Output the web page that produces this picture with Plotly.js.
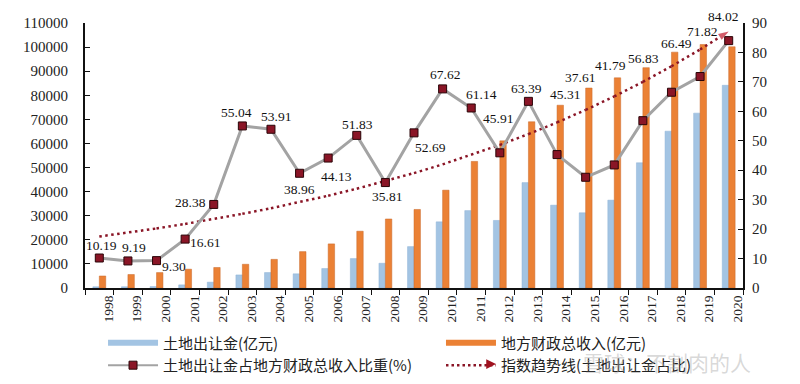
<!DOCTYPE html>
<html>
<head>
<meta charset="utf-8">
<script src="https://cdn.plot.ly/plotly-3.0.1.min.js"></script>
<style>html,body{margin:0;padding:0;background:#fff;}#chart{width:800px;height:384px;}</style>
</head>
<body>
<div id="chart"></div>
<script>
const years = ['1998','1999','2000','2001','2002','2003','2004','2005','2006','2007','2008','2009','2010','2011','2012','2013','2014','2015','2016','2017','2018','2019','2020'];
// 土地出让金(亿元)
const landRevenue = [508, 514, 596, 1296, 2417, 5421, 6412, 5884, 8078, 12217, 10260, 17180, 27465, 32126, 28042, 43745, 34377, 31221, 36462, 51984, 65096, 72584, 84142];
// 地方财政总收入(亿元)
const localRevenue = [4984, 5595, 6406, 7803, 8515, 9850, 11893, 15101, 18304, 23573, 28650, 32603, 40613, 52547, 61078, 69011, 75877, 83002, 87239, 91469, 97903, 101081, 100143];
// 土地出让金占地方财政总收入比重(%)
const landShare = [10.19, 9.19, 9.30, 16.61, 28.38, 55.04, 53.91, 38.96, 44.13, 51.83, 35.81, 52.69, 67.62, 61.14, 45.91, 63.39, 45.31, 37.61, 41.79, 56.83, 66.49, 71.82, 84.02];

const seriesNames = ['土地出让金(亿元)', '地方财政总收入(亿元)', '土地出让金占地方财政总收入比重(%)', '指数趋势线(土地出让金占比)'];

// label pixel offsets (layout only)
const labelDx = [2, 6, 17, 20, -23, -6, 5, 0, 8, 1, 1.5, 16, 2.5, 10, -2, -2, 8, -6, -4, 1, 5, 2, -6];
const labelDy = [13, 13, -6, -3, 2, 13, 12.5, -16, -18, 10.5, -14, -14.5, 14, 13.5, 34, 12.5, 60, 100, 99, 62, 49, 45.5, 24];

// exponential trend (least squares on ln values, as spreadsheet trendline)
const n = landShare.length;
const tIdx = landShare.map((_, i) => i);
const lnV = landShare.map(v => Math.log(v));
const mt = tIdx.reduce((a, b) => a + b, 0) / n;
const ml = lnV.reduce((a, b) => a + b, 0) / n;
let sxy = 0, sxx = 0;
for (let i = 0; i < n; i++) { sxy += (tIdx[i] - mt) * (lnV[i] - ml); sxx += (tIdx[i] - mt) ** 2; }
const bCoef = sxy / sxx;
const aCoef = Math.exp(ml - bCoef * mt);
const trend = tIdx.map(t => aCoef * Math.exp(bCoef * t));

const BLUE = '#A3C4E3', ORANGE = '#EB8135', GRAY = '#A3A3A3', DARKRED = '#8A1526';
const serif = 'Liberation Serif, Times New Roman, serif';
const cjk = 'Noto Sans CJK SC, sans-serif';

const traces = [
  { type: 'bar', x: years, y: landRevenue, name: seriesNames[0], marker: { color: BLUE, line: { color: '#8FB3D6', width: 0.5 } }, showlegend: false, xaxis: 'x', yaxis: 'y' },
  { type: 'bar', x: years, y: localRevenue, name: seriesNames[1], marker: { color: ORANGE, line: { color: '#C8692A', width: 0.5 } }, showlegend: false, xaxis: 'x', yaxis: 'y' },
  { type: 'scatter', mode: 'lines+markers', x: years, y: trend, xaxis: 'x', yaxis: 'y2', name: seriesNames[3], showlegend: false,
    line: { color: DARKRED, width: 2.5, dash: '2.5px,3.5px' },
    marker: { symbol: years.map((_, i) => i === n - 1 ? 'arrow' : 'circle'), size: years.map((_, i) => i === n - 1 ? 11 : 0), angleref: 'previous', color: '#C0172B', line: { width: 0 } } },
  { type: 'scatter', mode: 'lines+markers', x: years, y: landShare, xaxis: 'x', yaxis: 'y2', name: seriesNames[2], showlegend: false,
    line: { color: GRAY, width: 3 },
    marker: { symbol: 'square', size: 8, color: DARKRED, line: { color: '#2A0508', width: 1 } } },
  // legend proxies (no drawn points)
  { type: 'scatter', mode: 'lines', x: [years[0]], y: [null], xaxis: 'x', yaxis: 'y', name: seriesNames[0], line: { color: BLUE, width: 6 }, legend: 'legend', legendrank: 1 },
  { type: 'scatter', mode: 'lines+markers', x: [years[0]], y: [null], xaxis: 'x', yaxis: 'y', name: seriesNames[2], line: { color: GRAY, width: 2 }, marker: { symbol: 'square', size: 8, color: DARKRED, line: { color: '#2A0508', width: 1 } }, legend: 'legend', legendrank: 2 },
  { type: 'scatter', mode: 'lines', x: [years[0]], y: [null], xaxis: 'x', yaxis: 'y', name: seriesNames[1], line: { color: ORANGE, width: 6 }, legend: 'legend2', legendrank: 1 },
  { type: 'scatter', mode: 'lines', x: [years[0]], y: [null], xaxis: 'x', yaxis: 'y', name: seriesNames[3], line: { color: DARKRED, width: 2.5, dash: '2.5px,3px' }, legend: 'legend2', legendrank: 2 }
];

const annotations = landShare.map((v, i) => ({
  x: i, y: v, xref: 'x', yref: 'y2', text: v.toFixed(2), showarrow: false,
  xshift: labelDx[i], yshift: labelDy[i], font: { family: serif, size: 13.5, color: '#111' }
}));
// arrowhead at the end of the trend-line legend sample
annotations.push({
  xref: 'paper', yref: 'paper', x: 0.6246, y: -0.287, ax: -7, ay: 0, text: '', showarrow: true,
  arrowhead: 2, arrowsize: 1.3, arrowwidth: 1.5, arrowcolor: '#A0121F'
});
// watermark
annotations.push({
  xref: 'paper', yref: 'paper', x: 0.885, y: -0.28, xanchor: 'center', yanchor: 'middle', text: '雪球：不割肉的人', showarrow: false,
  font: { family: cjk, size: 21, color: 'rgba(170,170,170,0.45)' }
});

const legendBase = { orientation: 'v', xanchor: 'left', yanchor: 'top', y: -0.145, itemwidth: 50, tracegroupgap: 0, font: { family: cjk, size: 15, color: '#222' }, bgcolor: 'rgba(0,0,0,0)' };

const layout = {
  width: 800, height: 384,
  margin: { l: 85, r: 57, t: 23, b: 96, autoexpand: false },
  paper_bgcolor: '#fff', plot_bgcolor: '#fff',
  barmode: 'group', bargap: 0.55, bargroupgap: 0,
  showlegend: true,
  legend: Object.assign({}, legendBase, { x: 0.0274 }),
  legend2: Object.assign({}, legendBase, { x: 0.541 }),
  xaxis: { type: 'category', categoryorder: 'array', categoryarray: years, range: [-0.5, years.length - 0.5], showline: true, linecolor: '#111', linewidth: 2, ticks: 'outside', tickson: 'boundaries', ticklen: 5, tickcolor: '#111', tickangle: -90, ticklabelshift: 9, tickfont: { family: serif, size: 13.5, color: '#222' }, showgrid: false, zeroline: false },
  yaxis: { range: [0, 110000], dtick: 10000, showline: true, linecolor: '#111', linewidth: 2, ticks: 'inside', ticklen: 5, tickcolor: '#111', ticklabelstandoff: 12, tickfont: { family: serif, size: 15, color: '#222' }, showgrid: false, zeroline: false, tickformat: 'd' },
  yaxis2: { range: [0, 90], dtick: 10, overlaying: 'y', side: 'right', anchor: 'x', showline: true, linecolor: '#111', linewidth: 2, ticks: 'inside', ticklen: 5, tickcolor: '#111', ticklabelstandoff: 4, tickfont: { family: serif, size: 15, color: '#222' }, showgrid: false, zeroline: false },
  annotations: annotations
};

Plotly.newPlot('chart', traces, layout, { displayModeBar: false, staticPlot: true });
</script>
</body>
</html>
